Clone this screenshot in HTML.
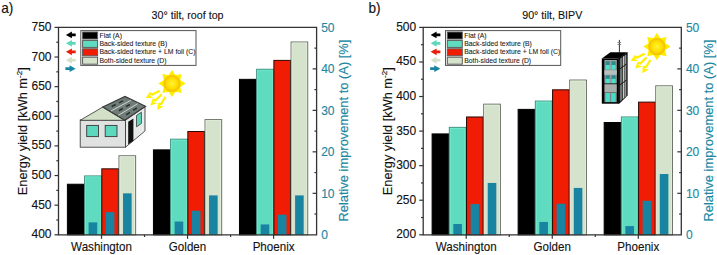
<!DOCTYPE html>
<html><head><meta charset="utf-8"><style>
html,body{margin:0;padding:0;background:#fff;width:717px;height:255px;overflow:hidden}
svg{display:block}
text{font-family:"Liberation Sans", sans-serif}
</style></head><body>
<svg width="717" height="255" viewBox="0 0 717 255">
<defs><radialGradient id="sung" cx="0.5" cy="0.5" r="0.5"><stop offset="0" stop-color="#fff040"/><stop offset="0.55" stop-color="#ffe200"/><stop offset="0.85" stop-color="#f8c800"/><stop offset="1" stop-color="#f2bc00"/></radialGradient></defs>
<rect width="717" height="255" fill="#fff"/>
<rect x="67.4" y="184.24" width="16.61" height="50.56" fill="#000000" stroke="#000" stroke-width="1.0"/>
<rect x="84.61" y="175.94" width="16.61" height="58.86" fill="#5fdbbf" stroke="#3c8c7c" stroke-width="1.0"/>
<rect x="85.51" y="176.84" width="14.81" height="57.96" fill="none" stroke="#78eed2" stroke-width="0.7"/>
<rect x="101.82" y="168.83" width="16.61" height="65.97" fill="#f01c04" stroke="#2a0a06" stroke-width="1.0"/>
<rect x="119.02" y="155.8" width="16.61" height="79" fill="#d6e3cc" stroke="#5f665c" stroke-width="1.0"/>
<rect x="119.92" y="156.7" width="14.81" height="78.1" fill="none" stroke="#eaf4e4" stroke-width="0.7"/>
<rect x="88.61" y="222.36" width="8.6" height="12.44" fill="#1884a2"/>
<rect x="105.82" y="212.19" width="8.6" height="22.61" fill="#1884a2"/>
<rect x="123.03" y="193.32" width="8.6" height="41.48" fill="#1884a2"/>
<rect x="153.44" y="149.87" width="16.61" height="84.93" fill="#000000" stroke="#000" stroke-width="1.0"/>
<rect x="170.64" y="139.2" width="16.61" height="95.6" fill="#5fdbbf" stroke="#3c8c7c" stroke-width="1.0"/>
<rect x="171.54" y="140.1" width="14.81" height="94.7" fill="none" stroke="#78eed2" stroke-width="0.7"/>
<rect x="187.85" y="131.5" width="16.61" height="103.3" fill="#f01c04" stroke="#2a0a06" stroke-width="1.0"/>
<rect x="205.06" y="119.65" width="16.61" height="115.15" fill="#d6e3cc" stroke="#5f665c" stroke-width="1.0"/>
<rect x="205.96" y="120.55" width="14.81" height="114.25" fill="none" stroke="#eaf4e4" stroke-width="0.7"/>
<rect x="174.65" y="221.53" width="8.6" height="13.27" fill="#1884a2"/>
<rect x="191.85" y="210.74" width="8.6" height="24.06" fill="#1884a2"/>
<rect x="209.06" y="195.39" width="8.6" height="39.41" fill="#1884a2"/>
<rect x="239.47" y="79.35" width="16.61" height="155.45" fill="#000000" stroke="#000" stroke-width="1.0"/>
<rect x="256.68" y="69.28" width="16.61" height="165.52" fill="#5fdbbf" stroke="#3c8c7c" stroke-width="1.0"/>
<rect x="257.58" y="70.18" width="14.81" height="164.62" fill="none" stroke="#78eed2" stroke-width="0.7"/>
<rect x="273.88" y="60.39" width="16.61" height="174.41" fill="#f01c04" stroke="#2a0a06" stroke-width="1.0"/>
<rect x="291.09" y="42.02" width="16.61" height="192.78" fill="#d6e3cc" stroke="#5f665c" stroke-width="1.0"/>
<rect x="291.99" y="42.92" width="14.81" height="191.88" fill="none" stroke="#eaf4e4" stroke-width="0.7"/>
<rect x="260.68" y="224.43" width="8.6" height="10.37" fill="#1884a2"/>
<rect x="277.89" y="214.68" width="8.6" height="20.12" fill="#1884a2"/>
<rect x="295.09" y="195.39" width="8.6" height="39.41" fill="#1884a2"/>
<path d="M58.5 234.8 V27.4 H316.6 V234.8 Z" fill="none" stroke="#333" stroke-width="1.3"/>
<line x1="54.5" y1="234.8" x2="58.5" y2="234.8" stroke="#333" stroke-width="1.2"/>
<text transform="translate(51.5,238.3) scale(1.0,1.05)" text-anchor="end" font-size="12.0" fill="#111" stroke="#111" stroke-width="0.12">400</text>
<line x1="56.3" y1="219.99" x2="58.5" y2="219.99" stroke="#333" stroke-width="1.2"/>
<line x1="54.5" y1="205.17" x2="58.5" y2="205.17" stroke="#333" stroke-width="1.2"/>
<text transform="translate(51.5,208.67) scale(1.0,1.05)" text-anchor="end" font-size="12.0" fill="#111" stroke="#111" stroke-width="0.12">450</text>
<line x1="56.3" y1="190.36" x2="58.5" y2="190.36" stroke="#333" stroke-width="1.2"/>
<line x1="54.5" y1="175.54" x2="58.5" y2="175.54" stroke="#333" stroke-width="1.2"/>
<text transform="translate(51.5,179.04) scale(1.0,1.05)" text-anchor="end" font-size="12.0" fill="#111" stroke="#111" stroke-width="0.12">500</text>
<line x1="56.3" y1="160.73" x2="58.5" y2="160.73" stroke="#333" stroke-width="1.2"/>
<line x1="54.5" y1="145.91" x2="58.5" y2="145.91" stroke="#333" stroke-width="1.2"/>
<text transform="translate(51.5,149.41) scale(1.0,1.05)" text-anchor="end" font-size="12.0" fill="#111" stroke="#111" stroke-width="0.12">550</text>
<line x1="56.3" y1="131.1" x2="58.5" y2="131.1" stroke="#333" stroke-width="1.2"/>
<line x1="54.5" y1="116.29" x2="58.5" y2="116.29" stroke="#333" stroke-width="1.2"/>
<text transform="translate(51.5,119.79) scale(1.0,1.05)" text-anchor="end" font-size="12.0" fill="#111" stroke="#111" stroke-width="0.12">600</text>
<line x1="56.3" y1="101.47" x2="58.5" y2="101.47" stroke="#333" stroke-width="1.2"/>
<line x1="54.5" y1="86.66" x2="58.5" y2="86.66" stroke="#333" stroke-width="1.2"/>
<text transform="translate(51.5,90.16) scale(1.0,1.05)" text-anchor="end" font-size="12.0" fill="#111" stroke="#111" stroke-width="0.12">650</text>
<line x1="56.3" y1="71.84" x2="58.5" y2="71.84" stroke="#333" stroke-width="1.2"/>
<line x1="54.5" y1="57.03" x2="58.5" y2="57.03" stroke="#333" stroke-width="1.2"/>
<text transform="translate(51.5,60.53) scale(1.0,1.05)" text-anchor="end" font-size="12.0" fill="#111" stroke="#111" stroke-width="0.12">700</text>
<line x1="56.3" y1="42.21" x2="58.5" y2="42.21" stroke="#333" stroke-width="1.2"/>
<line x1="54.5" y1="27.4" x2="58.5" y2="27.4" stroke="#333" stroke-width="1.2"/>
<text transform="translate(51.5,30.9) scale(1.0,1.05)" text-anchor="end" font-size="12.0" fill="#111" stroke="#111" stroke-width="0.12">750</text>
<text transform="translate(321.2,239.2) scale(1.0,1.05)" text-anchor="start" font-size="12.0" fill="#1b88a2" stroke="#1b88a2" stroke-width="0.12">0</text>
<line x1="314.4" y1="214.06" x2="316.6" y2="214.06" stroke="#333" stroke-width="1.2"/>
<line x1="312.6" y1="193.32" x2="316.6" y2="193.32" stroke="#333" stroke-width="1.2"/>
<text transform="translate(321.2,197.72) scale(1.0,1.05)" text-anchor="start" font-size="12.0" fill="#1b88a2" stroke="#1b88a2" stroke-width="0.12">10</text>
<line x1="314.4" y1="172.58" x2="316.6" y2="172.58" stroke="#333" stroke-width="1.2"/>
<line x1="312.6" y1="151.84" x2="316.6" y2="151.84" stroke="#333" stroke-width="1.2"/>
<text transform="translate(321.2,156.24) scale(1.0,1.05)" text-anchor="start" font-size="12.0" fill="#1b88a2" stroke="#1b88a2" stroke-width="0.12">20</text>
<line x1="314.4" y1="131.1" x2="316.6" y2="131.1" stroke="#333" stroke-width="1.2"/>
<line x1="312.6" y1="110.36" x2="316.6" y2="110.36" stroke="#333" stroke-width="1.2"/>
<text transform="translate(321.2,114.76) scale(1.0,1.05)" text-anchor="start" font-size="12.0" fill="#1b88a2" stroke="#1b88a2" stroke-width="0.12">30</text>
<line x1="314.4" y1="89.62" x2="316.6" y2="89.62" stroke="#333" stroke-width="1.2"/>
<line x1="312.6" y1="68.88" x2="316.6" y2="68.88" stroke="#333" stroke-width="1.2"/>
<text transform="translate(321.2,73.28) scale(1.0,1.05)" text-anchor="start" font-size="12.0" fill="#1b88a2" stroke="#1b88a2" stroke-width="0.12">40</text>
<line x1="314.4" y1="48.14" x2="316.6" y2="48.14" stroke="#333" stroke-width="1.2"/>
<text transform="translate(321.2,31.8) scale(1.0,1.05)" text-anchor="start" font-size="12.0" fill="#1b88a2" stroke="#1b88a2" stroke-width="0.12">50</text>
<line x1="101.52" y1="234.8" x2="101.52" y2="238.8" stroke="#333" stroke-width="1.2"/>
<text transform="translate(101.52,250.6) scale(1.0,1.1)" text-anchor="middle" font-size="11.6" fill="#111" stroke="#111" stroke-width="0.12">Washington</text>
<line x1="144.53" y1="234.8" x2="144.53" y2="237" stroke="#333" stroke-width="1.2"/>
<line x1="187.55" y1="234.8" x2="187.55" y2="238.8" stroke="#333" stroke-width="1.2"/>
<text transform="translate(187.55,250.6) scale(1.0,1.1)" text-anchor="middle" font-size="11.6" fill="#111" stroke="#111" stroke-width="0.12">Golden</text>
<line x1="230.57" y1="234.8" x2="230.57" y2="237" stroke="#333" stroke-width="1.2"/>
<line x1="273.58" y1="234.8" x2="273.58" y2="238.8" stroke="#333" stroke-width="1.2"/>
<text transform="translate(273.58,250.6) scale(1.0,1.1)" text-anchor="middle" font-size="11.6" fill="#111" stroke="#111" stroke-width="0.12">Phoenix</text>
<text transform="translate(187.55,19.2) scale(1.0,1.1)" text-anchor="middle" font-size="10.7" fill="#111" stroke="#111" stroke-width="0.12">30° tilt, roof top</text>
<text transform="translate(1.2,12.6) scale(0.92,1.0)" text-anchor="start" font-size="14.8" fill="#111" stroke="#111" stroke-width="0.15">a)</text>
<text transform="translate(26.8,131.2) rotate(-90) scale(1.015,0.97)" text-anchor="middle" font-size="12.6" fill="#111" stroke="#111" stroke-width="0.15">Energy yield [kWh m<tspan font-size="8" dy="-4.5">-2</tspan><tspan dy="4.5">]</tspan></text>
<text transform="translate(347.9,130.6) rotate(-90) scale(1.0,1.05)" text-anchor="middle" font-size="12.9" fill="#1b88a2" stroke="#1b88a2" stroke-width="0.15">Relative improvement to (A) [%]</text>
<rect x="80.8" y="30.6" width="115.2" height="34.8" fill="#fff" stroke="#555" stroke-width="1"/>
<rect x="82.6" y="32" width="15" height="7" fill="#000000" stroke="#5a5a5a" stroke-width="1.0"/>
<text transform="translate(99.5,37.7) scale(1.0,1.12)" text-anchor="start" font-size="6.85" fill="#1a1a1a" stroke="#1a1a1a" stroke-width="0.08">Flat (A)</text>
<rect x="82.6" y="40.4" width="15" height="7" fill="#5fdbbf" stroke="#5a5a5a" stroke-width="1.0"/>
<text transform="translate(99.5,45.97) scale(1.0,1.12)" text-anchor="start" font-size="6.85" fill="#1a1a1a" stroke="#1a1a1a" stroke-width="0.08">Back-sided texture (B)</text>
<rect x="82.6" y="48.8" width="15" height="7" fill="#f01c04" stroke="#5a5a5a" stroke-width="1.0"/>
<text transform="translate(99.5,54.24) scale(1.0,1.12)" text-anchor="start" font-size="6.85" fill="#1a1a1a" stroke="#1a1a1a" stroke-width="0.08">Back-sided texture + LM foil (C)</text>
<rect x="82.6" y="57.2" width="15" height="7" fill="#d6e3cc" stroke="#5a5a5a" stroke-width="1.0"/>
<text transform="translate(99.5,62.51) scale(1.0,1.12)" text-anchor="start" font-size="6.85" fill="#1a1a1a" stroke="#1a1a1a" stroke-width="0.08">Both-sided texture (D)</text>
<path transform="translate(65.9,34.9)" d="M0 0 L6.0 -3.4 L6.0 -1.35 L9.8 -1.35 L9.8 1.35 L6.0 1.35 L6.0 3.4 Z" fill="#000"/>
<path transform="translate(65.9,43.35)" d="M0 0 L6.0 -3.4 L6.0 -1.35 L9.8 -1.35 L9.8 1.35 L6.0 1.35 L6.0 3.4 Z" fill="#5dd8bc"/>
<path transform="translate(65.9,51.8)" d="M0 0 L6.0 -3.4 L6.0 -1.35 L9.8 -1.35 L9.8 1.35 L6.0 1.35 L6.0 3.4 Z" fill="#e81e0c"/>
<path transform="translate(65.9,60.25)" d="M0 0 L6.0 -3.4 L6.0 -1.35 L9.8 -1.35 L9.8 1.35 L6.0 1.35 L6.0 3.4 Z" fill="#d4e1c9"/>
<path transform="translate(75.6,68.7) scale(-1,1)" d="M0 0 L6.0 -3.4 L6.0 -1.35 L10.2 -1.35 L10.2 1.35 L6.0 1.35 L6.0 3.4 Z" fill="#1884a2"/>
<polygon points="172,69.9 175.44,75.19 181.62,73.88 180.31,80.06 185.6,83.5 180.31,86.94 181.62,93.12 175.44,91.81 172,97.1 168.56,91.81 162.38,93.12 163.69,86.94 158.4,83.5 163.69,80.06 162.38,73.88 168.56,75.19" fill="#ffee00"/>
<circle cx="172" cy="83.5" r="8.6" fill="url(#sung)"/>
<polyline points="159.7,90.7 152,94.66 150.73,93.51 151.57,94.88" fill="none" stroke="#fff000" stroke-width="2.2" stroke-linejoin="round"/>
<polygon points="145.7,97.9 149.97,91.77 149.97,95.7 153.17,97.99" fill="#fff000"/>
<polyline points="161.7,94.3 155.43,100.46 153.88,99.74 155.01,100.87" fill="none" stroke="#fff000" stroke-width="2.2" stroke-linejoin="round"/>
<polygon points="150.3,105.5 152.56,98.38 153.72,102.14 157.46,103.37" fill="#fff000"/>
<polyline points="165.5,96.8 161.05,104.11 159.37,103.8 160.83,104.46" fill="none" stroke="#fff000" stroke-width="2.2" stroke-linejoin="round"/>
<polygon points="157.4,110.1 157.84,102.64 159.9,106 163.82,106.28" fill="#fff000"/>
<polygon points="125.5,120 145,106.5 145,131 125.5,147.2" fill="#e9ebea" stroke="#3a3a3a" stroke-width="0.85"/>
<polygon points="144,107 145,106.5 145,131 144,131.7" fill="#999"/>
<polygon points="128.2,121.8 133.4,118.4 133.4,140.8 128.2,144.6" fill="#111"/>
<polygon points="136.5,115.5 141.4,112.2 141.4,123.5 136.5,126.8" fill="#5dd8bc" stroke="#3a3a3a" stroke-width="0.8"/>
<rect x="80.2" y="120" width="45.3" height="27.2" fill="#dfe2e0" stroke="#3a3a3a" stroke-width="0.85"/>
<rect x="86.7" y="125.4" width="11.8" height="11.2" fill="#5dd8bc" stroke="#3a3a3a" stroke-width="0.9"/>
<rect x="105.2" y="125.4" width="11.8" height="11.2" fill="#5dd8bc" stroke="#3a3a3a" stroke-width="0.9"/>
<polygon points="80.2,120.3 102.8,107 124.8,120.3" fill="#d4e1c9" stroke="#3a3a3a" stroke-width="0.85"/>
<polygon points="102.8,107 125,96.5 145.5,106.3 124.8,120.3" fill="#6f7c77" stroke="#3a3a3a" stroke-width="1.2"/>
<line x1="111.73" y1="106.56" x2="115.69" y2="104.56" stroke="#2a302e" stroke-width="1.6"/>
<line x1="118.98" y1="102.9" x2="122.93" y2="100.9" stroke="#2a302e" stroke-width="1.6"/>
<line x1="118.95" y1="110.71" x2="122.81" y2="108.5" stroke="#2a302e" stroke-width="1.6"/>
<line x1="126.03" y1="106.67" x2="129.89" y2="104.46" stroke="#2a302e" stroke-width="1.6"/>
<line x1="126.16" y1="114.86" x2="129.93" y2="112.45" stroke="#2a302e" stroke-width="1.6"/>
<line x1="133.07" y1="110.44" x2="136.85" y2="108.02" stroke="#2a302e" stroke-width="1.6"/>
<line x1="111" y1="110.97" x2="130.97" y2="100.23" stroke="#d8dedb" stroke-width="0.9"/>
<line x1="118.31" y1="115.35" x2="137.82" y2="103.55" stroke="#d8dedb" stroke-width="0.9"/>
<rect x="432.1" y="133.92" width="16.61" height="100.88" fill="#000000" stroke="#000" stroke-width="1.0"/>
<rect x="449.31" y="127.35" width="16.61" height="107.45" fill="#5fdbbf" stroke="#3c8c7c" stroke-width="1.0"/>
<rect x="450.21" y="128.25" width="14.81" height="106.55" fill="none" stroke="#78eed2" stroke-width="0.7"/>
<rect x="466.52" y="116.98" width="16.61" height="117.82" fill="#f01c04" stroke="#2a0a06" stroke-width="1.0"/>
<rect x="483.72" y="104.19" width="16.61" height="130.61" fill="#d6e3cc" stroke="#5f665c" stroke-width="1.0"/>
<rect x="484.62" y="105.09" width="14.81" height="129.71" fill="none" stroke="#eaf4e4" stroke-width="0.7"/>
<rect x="453.31" y="224.02" width="8.6" height="10.78" fill="#1884a2"/>
<rect x="470.52" y="204.1" width="8.6" height="30.7" fill="#1884a2"/>
<rect x="487.73" y="182.95" width="8.6" height="51.85" fill="#1884a2"/>
<rect x="518.14" y="109.38" width="16.61" height="125.42" fill="#000000" stroke="#000" stroke-width="1.0"/>
<rect x="535.34" y="101.08" width="16.61" height="133.72" fill="#5fdbbf" stroke="#3c8c7c" stroke-width="1.0"/>
<rect x="536.24" y="101.98" width="14.81" height="132.82" fill="none" stroke="#78eed2" stroke-width="0.7"/>
<rect x="552.55" y="89.81" width="16.61" height="144.99" fill="#f01c04" stroke="#2a0a06" stroke-width="1.0"/>
<rect x="569.76" y="80.06" width="16.61" height="154.74" fill="#d6e3cc" stroke="#5f665c" stroke-width="1.0"/>
<rect x="570.66" y="80.96" width="14.81" height="153.84" fill="none" stroke="#eaf4e4" stroke-width="0.7"/>
<rect x="539.35" y="221.94" width="8.6" height="12.86" fill="#1884a2"/>
<rect x="556.55" y="203.69" width="8.6" height="31.11" fill="#1884a2"/>
<rect x="573.76" y="187.93" width="8.6" height="46.87" fill="#1884a2"/>
<rect x="604.17" y="122.51" width="16.61" height="112.29" fill="#000000" stroke="#000" stroke-width="1.0"/>
<rect x="621.38" y="116.98" width="16.61" height="117.82" fill="#5fdbbf" stroke="#3c8c7c" stroke-width="1.0"/>
<rect x="622.28" y="117.88" width="14.81" height="116.92" fill="none" stroke="#78eed2" stroke-width="0.7"/>
<rect x="638.58" y="102.12" width="16.61" height="132.68" fill="#f01c04" stroke="#2a0a06" stroke-width="1.0"/>
<rect x="655.79" y="85.87" width="16.61" height="148.93" fill="#d6e3cc" stroke="#5f665c" stroke-width="1.0"/>
<rect x="656.69" y="86.77" width="14.81" height="148.03" fill="none" stroke="#eaf4e4" stroke-width="0.7"/>
<rect x="625.38" y="226.09" width="8.6" height="8.71" fill="#1884a2"/>
<rect x="642.59" y="200.79" width="8.6" height="34.01" fill="#1884a2"/>
<rect x="659.79" y="174.03" width="8.6" height="60.77" fill="#1884a2"/>
<path d="M423.2 234.8 V27.4 H681.3 V234.8 Z" fill="none" stroke="#333" stroke-width="1.3"/>
<line x1="419.2" y1="234.8" x2="423.2" y2="234.8" stroke="#333" stroke-width="1.2"/>
<text transform="translate(416.2,238.3) scale(1.0,1.05)" text-anchor="end" font-size="12.0" fill="#111" stroke="#111" stroke-width="0.12">200</text>
<line x1="421" y1="217.52" x2="423.2" y2="217.52" stroke="#333" stroke-width="1.2"/>
<line x1="419.2" y1="200.23" x2="423.2" y2="200.23" stroke="#333" stroke-width="1.2"/>
<text transform="translate(416.2,203.73) scale(1.0,1.05)" text-anchor="end" font-size="12.0" fill="#111" stroke="#111" stroke-width="0.12">250</text>
<line x1="421" y1="182.95" x2="423.2" y2="182.95" stroke="#333" stroke-width="1.2"/>
<line x1="419.2" y1="165.67" x2="423.2" y2="165.67" stroke="#333" stroke-width="1.2"/>
<text transform="translate(416.2,169.17) scale(1.0,1.05)" text-anchor="end" font-size="12.0" fill="#111" stroke="#111" stroke-width="0.12">300</text>
<line x1="421" y1="148.38" x2="423.2" y2="148.38" stroke="#333" stroke-width="1.2"/>
<line x1="419.2" y1="131.1" x2="423.2" y2="131.1" stroke="#333" stroke-width="1.2"/>
<text transform="translate(416.2,134.6) scale(1.0,1.05)" text-anchor="end" font-size="12.0" fill="#111" stroke="#111" stroke-width="0.12">350</text>
<line x1="421" y1="113.82" x2="423.2" y2="113.82" stroke="#333" stroke-width="1.2"/>
<line x1="419.2" y1="96.53" x2="423.2" y2="96.53" stroke="#333" stroke-width="1.2"/>
<text transform="translate(416.2,100.03) scale(1.0,1.05)" text-anchor="end" font-size="12.0" fill="#111" stroke="#111" stroke-width="0.12">400</text>
<line x1="421" y1="79.25" x2="423.2" y2="79.25" stroke="#333" stroke-width="1.2"/>
<line x1="419.2" y1="61.97" x2="423.2" y2="61.97" stroke="#333" stroke-width="1.2"/>
<text transform="translate(416.2,65.47) scale(1.0,1.05)" text-anchor="end" font-size="12.0" fill="#111" stroke="#111" stroke-width="0.12">450</text>
<line x1="421" y1="44.68" x2="423.2" y2="44.68" stroke="#333" stroke-width="1.2"/>
<line x1="419.2" y1="27.4" x2="423.2" y2="27.4" stroke="#333" stroke-width="1.2"/>
<text transform="translate(416.2,30.9) scale(1.0,1.05)" text-anchor="end" font-size="12.0" fill="#111" stroke="#111" stroke-width="0.12">500</text>
<text transform="translate(685.9,239.2) scale(1.0,1.05)" text-anchor="start" font-size="12.0" fill="#1b88a2" stroke="#1b88a2" stroke-width="0.12">0</text>
<line x1="679.1" y1="214.06" x2="681.3" y2="214.06" stroke="#333" stroke-width="1.2"/>
<line x1="677.3" y1="193.32" x2="681.3" y2="193.32" stroke="#333" stroke-width="1.2"/>
<text transform="translate(685.9,197.72) scale(1.0,1.05)" text-anchor="start" font-size="12.0" fill="#1b88a2" stroke="#1b88a2" stroke-width="0.12">10</text>
<line x1="679.1" y1="172.58" x2="681.3" y2="172.58" stroke="#333" stroke-width="1.2"/>
<line x1="677.3" y1="151.84" x2="681.3" y2="151.84" stroke="#333" stroke-width="1.2"/>
<text transform="translate(685.9,156.24) scale(1.0,1.05)" text-anchor="start" font-size="12.0" fill="#1b88a2" stroke="#1b88a2" stroke-width="0.12">20</text>
<line x1="679.1" y1="131.1" x2="681.3" y2="131.1" stroke="#333" stroke-width="1.2"/>
<line x1="677.3" y1="110.36" x2="681.3" y2="110.36" stroke="#333" stroke-width="1.2"/>
<text transform="translate(685.9,114.76) scale(1.0,1.05)" text-anchor="start" font-size="12.0" fill="#1b88a2" stroke="#1b88a2" stroke-width="0.12">30</text>
<line x1="679.1" y1="89.62" x2="681.3" y2="89.62" stroke="#333" stroke-width="1.2"/>
<line x1="677.3" y1="68.88" x2="681.3" y2="68.88" stroke="#333" stroke-width="1.2"/>
<text transform="translate(685.9,73.28) scale(1.0,1.05)" text-anchor="start" font-size="12.0" fill="#1b88a2" stroke="#1b88a2" stroke-width="0.12">40</text>
<line x1="679.1" y1="48.14" x2="681.3" y2="48.14" stroke="#333" stroke-width="1.2"/>
<text transform="translate(685.9,31.8) scale(1.0,1.05)" text-anchor="start" font-size="12.0" fill="#1b88a2" stroke="#1b88a2" stroke-width="0.12">50</text>
<line x1="466.22" y1="234.8" x2="466.22" y2="238.8" stroke="#333" stroke-width="1.2"/>
<text transform="translate(466.22,250.6) scale(1.0,1.1)" text-anchor="middle" font-size="11.6" fill="#111" stroke="#111" stroke-width="0.12">Washington</text>
<line x1="509.23" y1="234.8" x2="509.23" y2="237" stroke="#333" stroke-width="1.2"/>
<line x1="552.25" y1="234.8" x2="552.25" y2="238.8" stroke="#333" stroke-width="1.2"/>
<text transform="translate(552.25,250.6) scale(1.0,1.1)" text-anchor="middle" font-size="11.6" fill="#111" stroke="#111" stroke-width="0.12">Golden</text>
<line x1="595.27" y1="234.8" x2="595.27" y2="237" stroke="#333" stroke-width="1.2"/>
<line x1="638.28" y1="234.8" x2="638.28" y2="238.8" stroke="#333" stroke-width="1.2"/>
<text transform="translate(638.28,250.6) scale(1.0,1.1)" text-anchor="middle" font-size="11.6" fill="#111" stroke="#111" stroke-width="0.12">Phoenix</text>
<text transform="translate(552.25,19.2) scale(1.0,1.1)" text-anchor="middle" font-size="10.7" fill="#111" stroke="#111" stroke-width="0.12">90° tilt, BIPV</text>
<text transform="translate(368.4,12.6) scale(0.92,1.0)" text-anchor="start" font-size="14.8" fill="#111" stroke="#111" stroke-width="0.15">b)</text>
<text transform="translate(391.5,131.2) rotate(-90) scale(1.015,0.97)" text-anchor="middle" font-size="12.6" fill="#111" stroke="#111" stroke-width="0.15">Energy yield [kWh m<tspan font-size="8" dy="-4.5">-2</tspan><tspan dy="4.5">]</tspan></text>
<text transform="translate(712.6,130.6) rotate(-90) scale(1.0,1.05)" text-anchor="middle" font-size="12.9" fill="#1b88a2" stroke="#1b88a2" stroke-width="0.15">Relative improvement to (A) [%]</text>
<rect x="445.5" y="30.6" width="115.2" height="34.8" fill="#fff" stroke="#555" stroke-width="1"/>
<rect x="447.3" y="32" width="15" height="7" fill="#000000" stroke="#5a5a5a" stroke-width="1.0"/>
<text transform="translate(464.2,37.7) scale(1.0,1.12)" text-anchor="start" font-size="6.85" fill="#1a1a1a" stroke="#1a1a1a" stroke-width="0.08">Flat (A)</text>
<rect x="447.3" y="40.4" width="15" height="7" fill="#5fdbbf" stroke="#5a5a5a" stroke-width="1.0"/>
<text transform="translate(464.2,45.97) scale(1.0,1.12)" text-anchor="start" font-size="6.85" fill="#1a1a1a" stroke="#1a1a1a" stroke-width="0.08">Back-sided texture (B)</text>
<rect x="447.3" y="48.8" width="15" height="7" fill="#f01c04" stroke="#5a5a5a" stroke-width="1.0"/>
<text transform="translate(464.2,54.24) scale(1.0,1.12)" text-anchor="start" font-size="6.85" fill="#1a1a1a" stroke="#1a1a1a" stroke-width="0.08">Back-sided texture + LM foil (C)</text>
<rect x="447.3" y="57.2" width="15" height="7" fill="#d6e3cc" stroke="#5a5a5a" stroke-width="1.0"/>
<text transform="translate(464.2,62.51) scale(1.0,1.12)" text-anchor="start" font-size="6.85" fill="#1a1a1a" stroke="#1a1a1a" stroke-width="0.08">Both-sided texture (D)</text>
<path transform="translate(430.6,34.9)" d="M0 0 L6.0 -3.4 L6.0 -1.35 L9.8 -1.35 L9.8 1.35 L6.0 1.35 L6.0 3.4 Z" fill="#000"/>
<path transform="translate(430.6,43.35)" d="M0 0 L6.0 -3.4 L6.0 -1.35 L9.8 -1.35 L9.8 1.35 L6.0 1.35 L6.0 3.4 Z" fill="#5dd8bc"/>
<path transform="translate(430.6,51.8)" d="M0 0 L6.0 -3.4 L6.0 -1.35 L9.8 -1.35 L9.8 1.35 L6.0 1.35 L6.0 3.4 Z" fill="#e81e0c"/>
<path transform="translate(430.6,60.25)" d="M0 0 L6.0 -3.4 L6.0 -1.35 L9.8 -1.35 L9.8 1.35 L6.0 1.35 L6.0 3.4 Z" fill="#d4e1c9"/>
<path transform="translate(440.3,68.7) scale(-1,1)" d="M0 0 L6.0 -3.4 L6.0 -1.35 L10.2 -1.35 L10.2 1.35 L6.0 1.35 L6.0 3.4 Z" fill="#1884a2"/>
<polygon points="656.9,33 660.34,38.29 666.52,36.98 665.21,43.16 670.5,46.6 665.21,50.04 666.52,56.22 660.34,54.91 656.9,60.2 653.46,54.91 647.28,56.22 648.59,50.04 643.3,46.6 648.59,43.16 647.28,36.98 653.46,38.29" fill="#ffee00"/>
<circle cx="656.9" cy="46.6" r="8.6" fill="url(#sung)"/>
<polyline points="644.6,53.8 636.9,57.76 635.63,56.61 636.47,57.98" fill="none" stroke="#fff000" stroke-width="2.2" stroke-linejoin="round"/>
<polygon points="630.6,61 634.87,54.87 634.87,58.8 638.07,61.09" fill="#fff000"/>
<polyline points="646.6,57.4 640.33,63.56 638.78,62.84 639.91,63.97" fill="none" stroke="#fff000" stroke-width="2.2" stroke-linejoin="round"/>
<polygon points="635.2,68.6 637.46,61.48 638.62,65.24 642.36,66.47" fill="#fff000"/>
<polyline points="650.4,59.9 645.94,67.22 644.27,66.9 645.73,67.56" fill="none" stroke="#fff000" stroke-width="2.2" stroke-linejoin="round"/>
<polygon points="642.3,73.2 642.74,65.74 644.8,69.1 648.72,69.38" fill="#fff000"/>
<line x1="619.4" y1="39.9" x2="619.4" y2="52.5" stroke="#333" stroke-width="1"/>
<line x1="617.6" y1="42.5" x2="621.2" y2="42.5" stroke="#777" stroke-width="0.9"/>
<line x1="617.6" y1="44.5" x2="621.2" y2="44.5" stroke="#777" stroke-width="0.9"/>
<polygon points="601.8,58.6 610.4,52.2 627.4,52.2 618.6,58.6" fill="#000"/>
<polygon points="618.2,58.6 627.6,52 627.6,95.4 619.2,103.8 618.2,103.8" fill="#000"/>
<polygon points="619.8,58.8 622.1,57.2 622.1,99.8 619.8,101.8" fill="#6d7572"/>
<polygon points="622.7,56.8 624.5,55.5 624.5,97.6 622.7,99.3" fill="#c5ccc9"/>
<polygon points="625.0,55.2 626.4,54.2 626.4,95.9 625.0,97.2" fill="#8d9592"/>
<polygon points="619.8,68.5 626.4,63.5 626.4,64.5 619.8,69.5" fill="#111"/>
<polygon points="619.8,84.5 626.4,79.5 626.4,80.5 619.8,85.5" fill="#111"/>
<rect x="601.8" y="58.5" width="16.8" height="45.2" fill="#000"/>
<rect x="604.4" y="60.0" width="12.4" height="23.4" fill="#9aa29f"/>
<rect x="604.4" y="84.2" width="12.4" height="8.4" fill="#a9afac"/>
<rect x="604.4" y="92.6" width="12.4" height="9.6" fill="#7f8784"/>
<rect x="605.5" y="61.2" width="4.3" height="8.4" fill="#2b8b92"/>
<rect x="605.5" y="64.98" width="4.3" height="4.62" fill="#4fe0cc"/>
<rect x="611.4" y="61.2" width="4.3" height="8.4" fill="#2b8b92"/>
<rect x="611.4" y="64.98" width="4.3" height="4.62" fill="#4fe0cc"/>
<rect x="605.5" y="75.3" width="4.3" height="7.8" fill="#2b8b92"/>
<rect x="605.5" y="78.81" width="4.3" height="4.29" fill="#4fe0cc"/>
<rect x="611.4" y="75.3" width="4.3" height="7.8" fill="#2b8b92"/>
<rect x="611.4" y="78.81" width="4.3" height="4.29" fill="#4fe0cc"/>
<rect x="604.4" y="70.4" width="12.4" height="4.3" fill="#b9c0bc"/>
<rect x="605.5" y="93.0" width="4.4" height="8.9" fill="#48dcc8"/>
<rect x="611.2" y="93.0" width="4.4" height="8.9" fill="#48dcc8"/>
</svg></body></html>
